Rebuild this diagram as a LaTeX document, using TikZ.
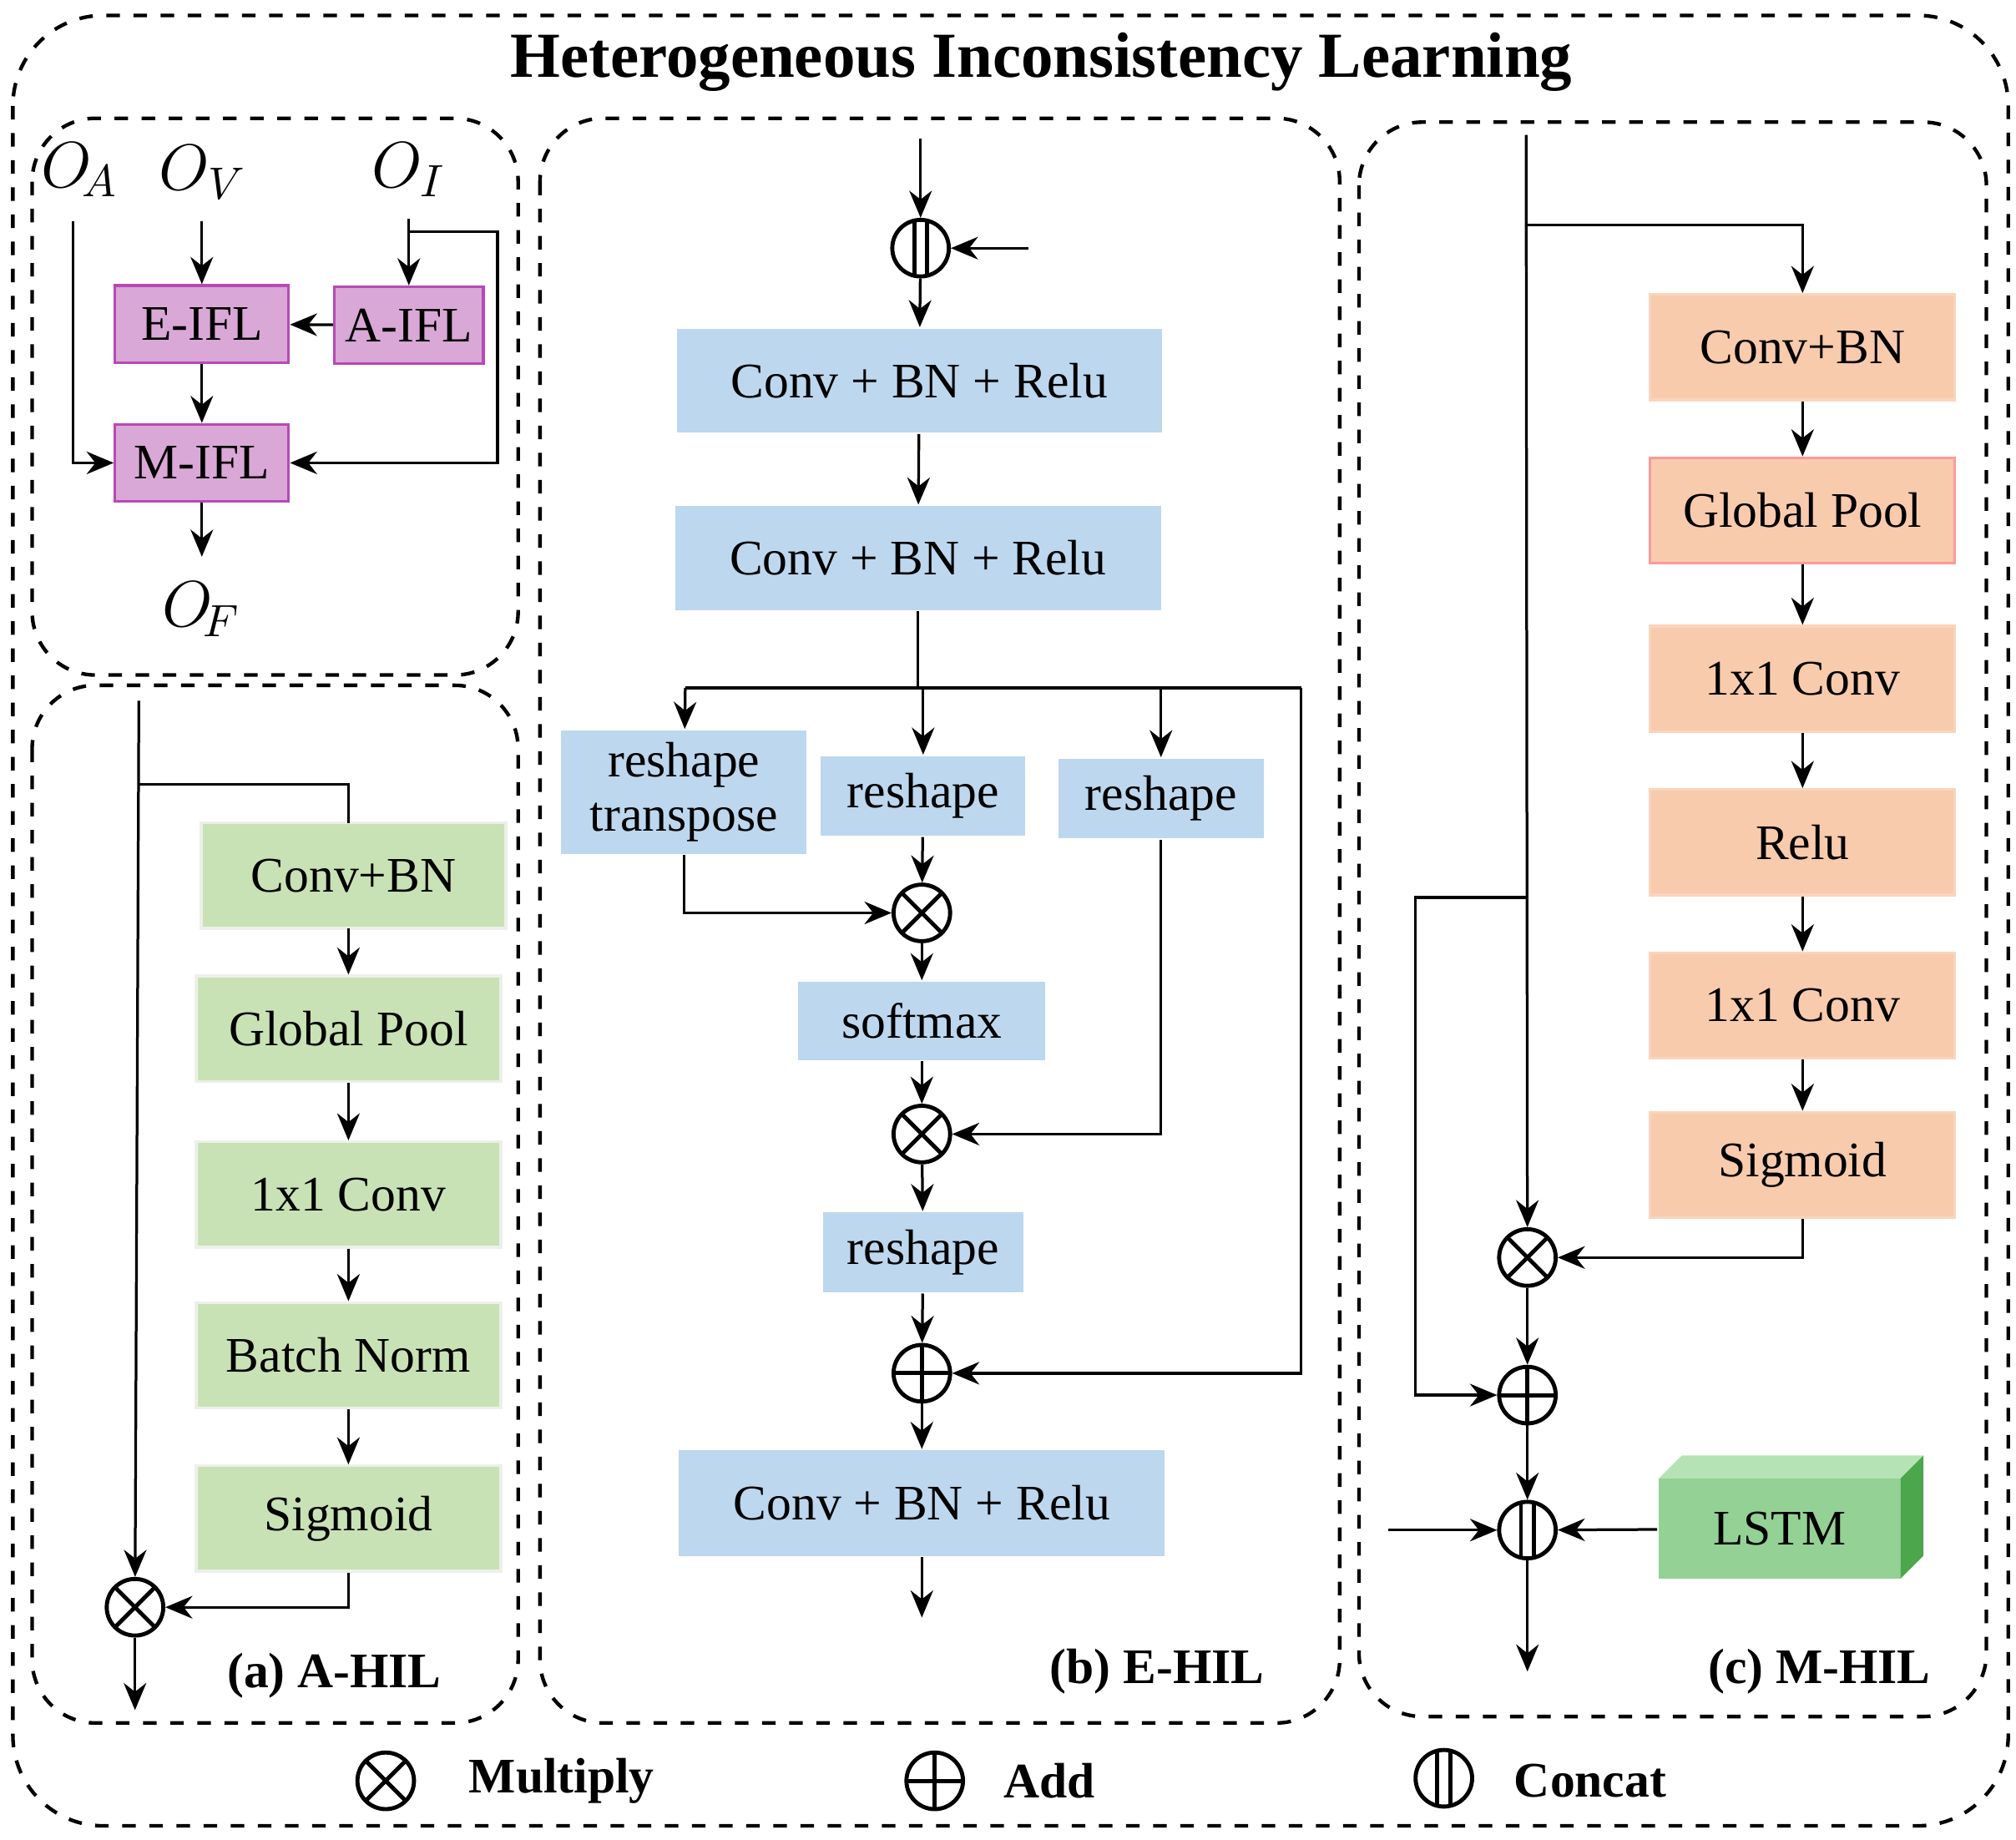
\documentclass[tikz,border=0pt]{standalone}
\usepackage{fontspec}
\setmainfont{Liberation Serif}
\usetikzlibrary{arrows.meta}
\definecolor{pfill}{HTML}{D9A8D6}\definecolor{pdraw}{HTML}{B848B8}
\definecolor{gfill}{HTML}{C9E2B5}\definecolor{bfill}{HTML}{BDD7EE}
\definecolor{ofill}{HTML}{F8CBAD}
\begin{document}
\begin{tikzpicture}[x=0.01cm,y=-0.01cm,line width=0.6pt,
 >={Stealth[length=6pt,width=5pt]},
 panel/.style={draw,dashed,line width=0.8pt,rounded corners=14pt},
 pbox/.style={draw=pdraw,fill=pfill,minimum width=135*0.01cm,minimum height=60*0.01cm,inner sep=0pt,font=\fontsize{11}{12}\selectfont},
 gbox/.style={draw=gfill!80!black!20!white,fill=gfill,minimum width=237*0.01cm,minimum height=82*0.01cm,inner sep=0pt,font=\fontsize{11}{12}\selectfont},
 obox/.style={draw=ofill!80!white,fill=ofill,minimum width=237*0.01cm,minimum height=82*0.01cm,inner sep=0pt,font=\fontsize{11}{12}\selectfont},
 bbox/.style={fill=bfill,inner sep=0pt,font=\fontsize{11}{12}\selectfont,align=center},
 op/.style={circle,draw,line width=0.9pt,minimum size=44*0.01cm,inner sep=0pt},
 mul/.style={op,path picture={\draw[line width=0.9pt] (path picture bounding box.north west)--(path picture bounding box.south east) (path picture bounding box.north east)--(path picture bounding box.south west);}},
 add/.style={op,path picture={\draw[line width=0.9pt] (path picture bounding box.north)--(path picture bounding box.south) (path picture bounding box.east)--(path picture bounding box.west);}},
 cat/.style={op,path picture={\draw[line width=0.9pt] ([xshift=-0.05cm]path picture bounding box.north)--([xshift=-0.05cm]path picture bounding box.south) ([xshift=0.05cm]path picture bounding box.north)--([xshift=0.05cm]path picture bounding box.south);}},
 lab/.style={font=\bfseries\fontsize{11}{13}\selectfont},
 ol/.style={font=\fontsize{14}{15}\selectfont,inner sep=1pt}]
\useasboundingbox (0,0) rectangle (1568,1431);
\draw[panel,rounded corners=20pt] (10,12) rectangle (1562,1420);
\node[font=\bfseries\fontsize{14.2}{16}\selectfont] (title) at (810,48) {Heterogeneous Inconsistency Learning};
\draw[panel] (25,92) rectangle (403,525);
\draw[panel] (25,533) rectangle (403,1340);
\draw[panel] (420,92) rectangle (1042,1340);
\draw[panel] (1057,95) rectangle (1545,1335);
% (a) top
\node[ol] (oa) at (62,132) {$O_{\!A}$};
\node[ol] (ov) at (158,134) {$O_{V}$};
\node[ol] (oi) at (318,132) {$O_{I}$};
\node[ol] (of) at (157,474) {$O_{\!F}$};
\node[pbox] (e) at (157,252) {E-IFL};
\node[pbox,minimum width=116*0.01cm] (a) at (318,253) {A-IFL};
\node[pbox] (m) at (157,360) {M-IFL};
\coordinate (ovs) at (157,172); \coordinate (ois) at (318,170); \coordinate (oas) at (57,172); \coordinate (ofe) at (157,433);
\draw[->] (ovs)--(e); \draw[->] (ois)--(a); \draw[->] (a)--(e); \draw[->] (e)--(m);
\draw[->] (318,180)--(387,180)--(387,360)--(m.east);
\draw[->] (oas)--(57,360)--(m.west);
\draw[->] (m)--(ofe);
% (a) bottom
\node[gbox] (g1) at (275,681) {Conv+BN};
\node[gbox] (g2) at (271,800) {Global Pool};
\node[gbox] (g3) at (271,929) {1x1 Conv};
\node[gbox] (g4) at (271,1054) {Batch Norm};
\node[gbox] (g5) at (271,1181) {Sigmoid};
\node[mul] (am) at (105,1250) {};
\coordinate (ain) at (108,545); \coordinate (aout) at (105,1330);
\draw[->] (ain)--(am);
\draw (108,610)--(271,610)--(271,640);
\draw[->] (271,722)--(g2); \draw[->] (g2)--(g3); \draw[->] (g3)--(g4); \draw[->] (g4)--(g5);
\draw[->] (g5.south)--(271,1250)--(am);
\draw[->] (am)--(aout);
\node[lab] (la) at (260,1303) {(a) A-HIL};
% (b)
\node[cat] (bc) at (716,193) {};
\coordinate (bin) at (716,108); \coordinate (bin2) at (800,193);
\draw[->] (bin)--(bc); \draw[->] (bin2)--(bc);
\node[bbox,minimum width=377*0.01cm,minimum height=81*0.01cm] (c1) at (715,296) {Conv + BN + Relu};
\node[bbox,minimum width=378*0.01cm,minimum height=81*0.01cm] (c2) at (714,434) {Conv + BN + Relu};
\draw[->] (bc)--(c1); \draw[->] (c1)--(c2);
\node[bbox,minimum width=191*0.01cm,minimum height=96*0.01cm] (rt) at (532,616) {reshape\\transpose};
\node[bbox,minimum width=159*0.01cm,minimum height=62*0.01cm] (r1) at (718,619) {reshape};
\node[bbox,minimum width=160*0.01cm,minimum height=62*0.01cm] (r2) at (903,621) {reshape};
\draw (c2)--(714,535); \draw (533,535)--(1012,535);
\draw[->] (533,535)--(rt); \draw[->] (718,535)--(r1); \draw[->] (903,535)--(r2);
\node[mul] (m1) at (717,710) {};
\draw[->] (r1)--(m1); \draw[->] (rt.south)--(532,710)--(m1);
\node[bbox,minimum width=192*0.01cm,minimum height=61*0.01cm] (sm) at (717,794) {softmax};
\draw[->] (m1)--(sm);
\node[mul] (m2) at (717,882) {};
\draw[->] (sm)--(m2); \draw[->] (r2.south)--(903,882)--(m2);
\node[bbox,minimum width=156*0.01cm,minimum height=62*0.01cm] (r4) at (718,974) {reshape};
\draw[->] (m2)--(r4);
\node[add] (ad) at (717,1068) {};
\draw[->] (r4)--(ad); \draw[->] (1012,535)--(1012,1068)--(ad);
\node[bbox,minimum width=378*0.01cm,minimum height=82*0.01cm] (c3) at (717,1169) {Conv + BN + Relu};
\coordinate (bout) at (717,1258);
\draw[->] (ad)--(c3); \draw[->] (c3)--(bout);
\node[lab] (lb) at (900,1300) {(b) E-HIL};
% (c)
\node[obox] (o1) at (1402,270) {Conv+BN};
\node[obox,draw=pink!80!red] (o2) at (1402,397) {Global Pool};
\node[obox] (o3) at (1402,528) {1x1 Conv};
\node[obox] (o4) at (1402,655) {Relu};
\node[obox] (o5) at (1402,782) {1x1 Conv};
\node[obox] (o6) at (1402,906) {Sigmoid};
\draw[->] (o1)--(o2); \draw[->] (o2)--(o3); \draw[->] (o3)--(o4); \draw[->] (o4)--(o5); \draw[->] (o5)--(o6);
\node[mul] (cm) at (1188,978) {};
\node[add] (ca) at (1188,1085) {};
\node[cat] (cc) at (1188,1190) {};
\coordinate (cin) at (1187,105);
\draw[->] (cin)--(cm);
\draw[->] (1187,175)--(1402,175)--(o1);
\draw[->] (1187,698)--(1101,698)--(1101,1085)--(ca);
\draw[->] (o6.south)--(1402,978)--(cm);
\draw[->] (cm)--(ca); \draw[->] (ca)--(cc);
\coordinate (cin2) at (1080,1190); \coordinate (cout) at (1188,1300);
\draw[->] (cin2)--(cc);
\fill[green!45!gray!40!white] (1290,1150)--(1308,1132)--(1496,1132)--(1478,1150)--cycle;
\fill[green!50!black!70!white] (1478,1150)--(1496,1132)--(1496,1210)--(1478,1228)--cycle;
\node[fill=green!40!gray!60!white,minimum width=188*0.01cm,minimum height=78*0.01cm,inner sep=0pt,font=\fontsize{11}{12}\selectfont] (ls) at (1384,1189) {LSTM};
\draw[->] (ls)--(cc); \draw[->] (cc)--(cout);
\node[lab] (lc) at (1415,1300) {(c) M-HIL};
% legend
\node[mul] (lm) at (300,1385) {}; \node[lab,anchor=west] (lmt) at (352,1385) {Multiply};
\node[add] (lad) at (727,1385) {}; \node[lab,anchor=west] (ladt) at (768,1385) {Add};
\node[cat] (lct) at (1123,1383) {}; \node[lab,anchor=west] (lctt) at (1165,1385) {Concat};
\end{tikzpicture}
\end{document}
